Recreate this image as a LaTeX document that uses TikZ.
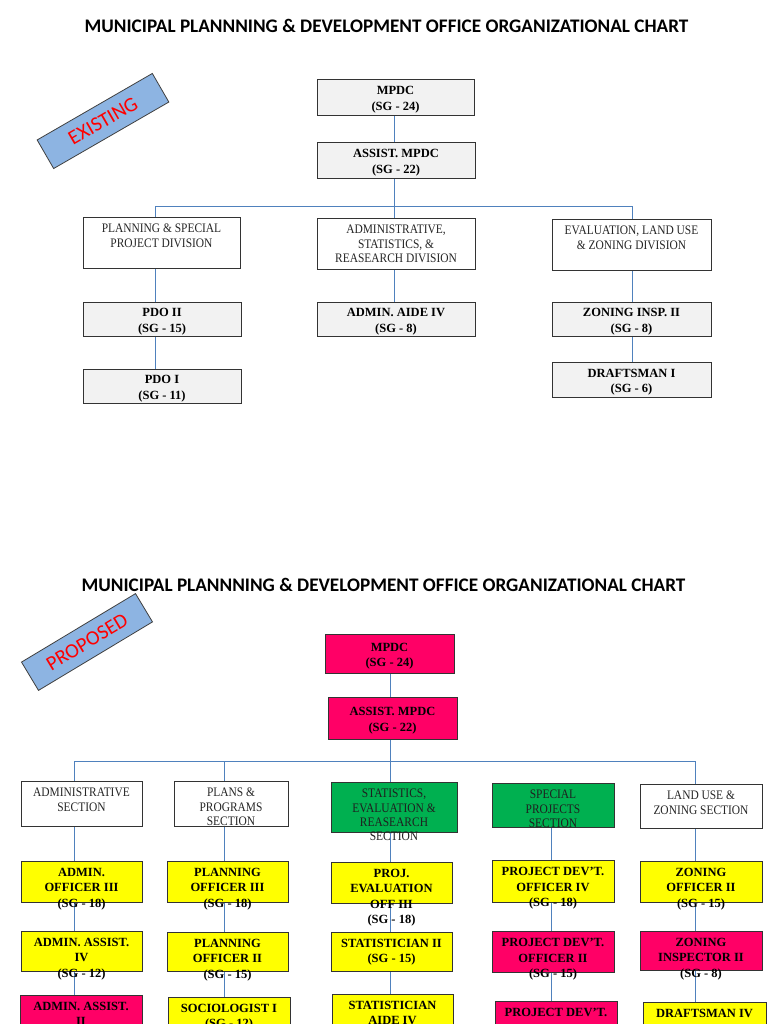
\documentclass[tikz,border=0pt]{standalone}
\usepackage{fontspec}
\setmainfont{Liberation Serif}
\newfontfamily\titlefont{Carlito}
\newfontfamily\condfont[FakeStretch=0.88]{Liberation Serif}
\definecolor{boxgray}{HTML}{F2F2F2}
\definecolor{boxpink}{HTML}{FF0066}
\definecolor{boxyellow}{HTML}{FFFF00}
\definecolor{boxgreen}{HTML}{00B050}
\definecolor{bannerblue}{HTML}{8DB4E2}
\definecolor{linecol}{HTML}{4F81BD}
\pgfdeclarelayer{back}
\pgfdeclarelayer{bg}
\pgfsetlayers{back,bg,main}
\tikzset{
  box/.style={draw=black!80, line width=0.8pt, inner sep=0pt, outer sep=0pt},
  gray box/.style={box, fill=boxgray},
  white box/.style={box, fill=white},
  pink box/.style={box, fill=boxpink},
  yellow box/.style={box, fill=boxyellow},
  green box/.style={box, fill=boxgreen},
  posfont/.style={font=\fontsize{12.5}{15.5}\selectfont\bfseries, text=black},
  divfont/.style={font=\condfont\fontsize{13}{14.3}\selectfont, text=black!85},
  greenfont/.style={font=\condfont\fontsize{13}{14.3}\selectfont, text=black!88},
  toplbl/.style={anchor=north, align=center, inner sep=0pt, yshift=-7pt},
  midlbl/.style={anchor=center, align=center, inner sep=0pt, yshift=-2.5pt},
  conn/.style={draw=linecol, line width=0.9pt},
  banner/.style={draw=black!75, line width=0.8pt, fill=bannerblue, minimum width=133pt,
    minimum height=33pt, inner sep=0pt, text=red, font=\titlefont\fontsize{20.5}{21}\selectfont},
  charttitle/.style={font=\titlefont\bfseries\fontsize{19.2}{22}\selectfont, inner sep=0pt},
}
% top-aligned text box: name, box style, text style, x1, y1, x2, y2, text
\newcommand\tbox[8]{%
  \pgfmathsetmacro\bw{#6-#4}\pgfmathsetmacro\bh{#7-#5}%
  \node[#2, minimum width=\bw pt, minimum height=\bh pt, anchor=north west,
        label={[toplbl,#3]north:{#8}}] (#1) at (#4,#5) {};}
% centred text box
\newcommand\cbox[8]{%
  \pgfmathsetmacro\bw{#6-#4}\pgfmathsetmacro\bh{#7-#5}%
  \node[#2, minimum width=\bw pt, minimum height=\bh pt, anchor=north west,
        label={[midlbl,#3]center:{#8}}] (#1) at (#4,#5) {};}
\begin{document}
\begin{tikzpicture}[x=1pt, y=-1pt]
\path[use as bounding box, clip] (0,0) rectangle (768,1024);
\begin{pgfonlayer}{back}
\fill[white] (0,0) rectangle (768,1024);
\end{pgfonlayer}

% ================= EXISTING =================
\node[charttitle] (t1) at (386.5,26) {MUNICIPAL PLANNNING \& DEVELOPMENT OFFICE ORGANIZATIONAL CHART};
\node[banner, rotate=30] (ex) at (103,121) {EXISTING};

\cbox{eMPDC}{gray box}{posfont}{317}{79}{474}{115}{MPDC\\(SG - 24)}
\cbox{eAss}{gray box}{posfont}{317}{142}{475}{178}{ASSIST. MPDC\\(SG - 22)}
\tbox{eDivA}{white box}{divfont}{83}{217}{240}{268}{PLANNING \& SPECIAL\\PROJECT DIVISION}
\tbox{eDivB}{white box}{divfont}{317}{218}{475}{269}{ADMINISTRATIVE,\\STATISTICS, \&\\REASEARCH DIVISION}
\tbox{eDivC}{white box}{divfont}{552}{219}{711}{270}{EVALUATION, LAND USE\\\& ZONING DIVISION}
\cbox{ePdoII}{gray box}{posfont}{83}{302}{241}{336}{PDO II\\(SG - 15)}
\cbox{ePdoI}{gray box}{posfont}{83}{369}{241}{403}{PDO I\\(SG - 11)}
\cbox{eAide}{gray box}{posfont}{317}{302}{475}{336}{ADMIN. AIDE IV\\(SG - 8)}
\cbox{eZon}{gray box}{posfont}{552}{302}{711}{336}{ZONING INSP. II\\(SG - 8)}
\cbox{eDraft}{gray box}{posfont}{552}{362}{711}{397}{DRAFTSMAN I\\(SG - 6)}

\coordinate (ebL) at (155,206);
\coordinate (ebM) at (394.5,206);
\coordinate (ebR) at (632,206);

% ================= PROPOSED =================
\node[charttitle] (t2) at (383.5,585) {MUNICIPAL PLANNNING \& DEVELOPMENT OFFICE ORGANIZATIONAL CHART};
\node[banner, rotate=31] (pr) at (87,642) {PROPOSED};

\cbox{pMPDC}{pink box}{posfont}{325}{634}{454}{673}{MPDC\\(SG - 24)}
\cbox{pAss}{pink box}{posfont}{328}{697}{457}{739}{ASSIST. MPDC\\(SG - 22)}

\tbox{sA}{white box}{divfont}{21}{781}{142}{826}{ADMINISTRATIVE\\SECTION}
\tbox{sB}{white box}{divfont}{174}{781}{288}{826}{PLANS \&\\PROGRAMS\\SECTION}
\tbox{sC}{green box}{greenfont}{331}{782}{457}{832}{STATISTICS,\\EVALUATION \&\\REASEARCH\\SECTION}
\tbox{sD}{green box}{greenfont}{492}{783}{614}{827}{SPECIAL\\PROJECTS\\SECTION}
\tbox{sE}{white box}{divfont}{640}{784}{762}{828}{LAND USE \&\\ZONING SECTION}

% column A
\tbox{aA}{yellow box}{posfont}{21}{861}{142}{902}{ADMIN.\\OFFICER III\\(SG - 18)}
\tbox{aB}{yellow box}{posfont}{21}{931}{142}{971}{ADMIN. ASSIST.\\IV\\(SG - 12)}
\tbox{aC}{pink box}{posfont}{20}{995}{142}{1045}{ADMIN. ASSIST.\\II}
% column B
\tbox{bA}{yellow box}{posfont}{167}{861}{288}{902}{PLANNING\\OFFICER III\\(SG - 18)}
\tbox{bB}{yellow box}{posfont}{167}{932}{288}{971}{PLANNING\\OFFICER II\\(SG - 15)}
\tbox{bC}{yellow box}{posfont}{168}{997}{290}{1045}{SOCIOLOGIST I\\(SG - 12)}
% column C
\tbox{cA}{yellow box}{posfont}{331}{862}{452}{903}{PROJ.\\EVALUATION\\OFF III\\(SG - 18)}
\tbox{cB}{yellow box}{posfont}{331}{932}{452}{971}{STATISTICIAN II\\(SG - 15)}
\tbox{cC}{yellow box}{posfont}{332}{994}{453}{1045}{STATISTICIAN\\AIDE IV}
% column D
\tbox{dA}{yellow box}{posfont}{492}{860}{614}{902}{PROJECT DEV'T.\\OFFICER IV\\(SG - 18)}
\tbox{dB}{pink box}{posfont}{492}{931}{614}{972}{PROJECT DEV'T.\\OFFICER II\\(SG - 15)}
\tbox{dC}{pink box}{posfont}{495}{1001}{617}{1045}{PROJECT DEV'T.}
% column E
\tbox{fA}{yellow box}{posfont}{640}{861}{762}{902}{ZONING\\OFFICER II\\(SG - 15)}
\tbox{fB}{pink box}{posfont}{640}{931}{762}{970}{ZONING\\INSPECTOR II\\(SG - 8)}
\tbox{fC}{yellow box}{posfont}{643}{1002}{766}{1045}{DRAFTSMAN IV}

\coordinate (b1) at (74.5,761);
\coordinate (b2) at (224,761);
\coordinate (b3) at (390,761);
\coordinate (b4) at (551,761);
\coordinate (b5) at (695,761);

% ================= CONNECTORS =================
\begin{pgfonlayer}{bg}
  % existing
  \draw[conn] (ebM |- eMPDC.south) -- (ebM |- eAss.north);
  \draw[conn] (ebM |- eAss.south) -- (ebM);
  \draw[conn] (ebL |- eDivA.north) -- (ebL) -- (ebR) -- (ebR |- eDivC.north);
  \draw[conn] (ebM) -- (ebM |- eDivB.north);
  \draw[conn] (ebL |- eDivA.south) -- (ebL |- ePdoI.north);
  \draw[conn] (ebM |- eDivB.south) -- (ebM |- eAide.north);
  \draw[conn] (ebR |- eDivC.south) -- (ebR |- eDraft.north);
  % proposed
  \draw[conn] (b3 |- pMPDC.south) -- (b3 |- pAss.north);
  \draw[conn] (b3 |- pAss.south) -- (b3);
  \draw[conn] (b1 |- sA.north) -- (b1) -- (b5) -- (b5 |- sE.north);
  \draw[conn] (b2) -- (b2 |- sB.north);
  \draw[conn] (b3) -- (b3 |- sC.north);
  \draw[conn] (b1 |- sA.south) -- (b1 |- aC.north);
  \draw[conn] (b2 |- sB.south) -- (b2 |- bC.north);
  \draw[conn] (b3 |- sC.south) -- (b3 |- cC.north);
  \draw[conn] (b4 |- sD.south) -- (b4 |- dC.north);
  \draw[conn] (b5 |- sE.south) -- (b5 |- fC.north);
\end{pgfonlayer}
\end{tikzpicture}
\end{document}
